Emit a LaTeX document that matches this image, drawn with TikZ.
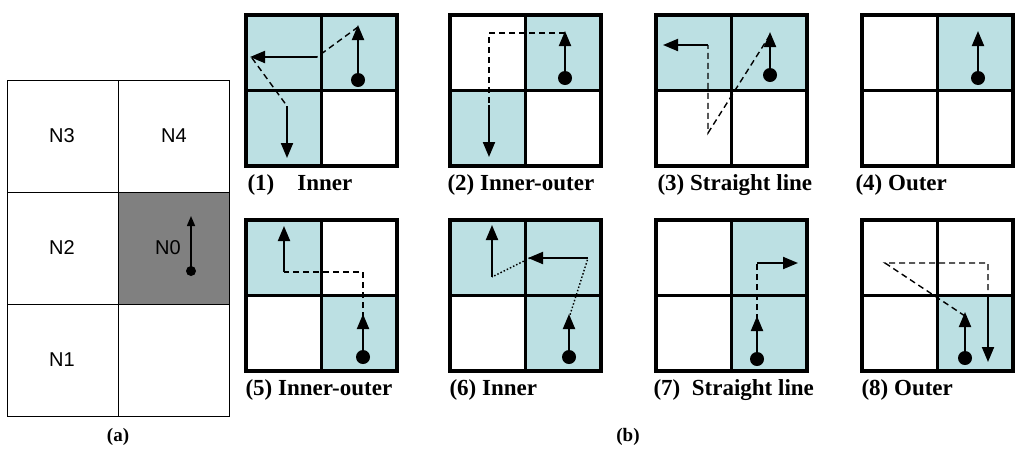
\documentclass[tikz,border=0pt]{standalone}
\usepackage{fontspec}
\setmainfont{Liberation Serif}
\newfontfamily\sansf{Liberation Sans}
\usetikzlibrary{arrows.meta}
\definecolor{lb}{HTML}{BCE0E3}
\definecolor{dg}{HTML}{808080}
\tikzset{
  frame/.style={line width=3.5pt},
  mv/.style={line width=2pt,-{Triangle[length=15pt,width=12pt]}},
  dsh/.style={line width=1.4pt,dash pattern=on 6pt off 4pt},
  dtt/.style={line width=1.4pt,dash pattern=on 1.5pt off 2pt},
  lab/.style={font=\fontsize{23}{25}\selectfont\bfseries,anchor=west},
  nlab/.style={font=\sansf\fontsize{20}{22}\selectfont},
}
\newcommand\cell[2]{\fill[lb] (#1*75.5,#2*75.5) rectangle ++(75.5,75.5);}
\newcommand\gridframe{\draw[frame] (0,0) rectangle (151,151) (75.5,0)--(75.5,151) (0,75.5)--(151,75.5);}
\newcommand\startdot[1]{\fill (#1) circle (7);}
\begin{document}
\begin{tikzpicture}[x=1pt,y=-1pt]
\useasboundingbox (0,0) rectangle (1024,456);
% (a)
\fill[dg] (118,192) rectangle (229,304);
\draw[line width=1pt] (7,80) rectangle (229,416) (118,80)--(118,416) (7,192)--(229,192) (7,304)--(229,304);
\node[nlab] (n3) at (62,136) {N3};
\node[nlab] (n4) at (174,136) {N4};
\node[nlab] (n2) at (62,248) {N2};
\node[nlab] (n0) at (168,248) {N0};
\node[nlab] (n1) at (62,360) {N1};
\fill (191,271) circle (5);
\draw[line width=1.5pt,-{Triangle[length=10pt,width=8pt]}] (191,271)--(191,216);
\node[font=\fontsize{19}{21}\selectfont\bfseries] (la) at (118,437) {(a)};
\node[font=\fontsize{19}{21}\selectfont\bfseries] (lb) at (628,437) {(b)};
% grid 1
\begin{scope}[shift={(246,15)}]
\cell00 \cell10 \cell01 \gridframe
\startdot{112,65}
\draw[mv] (112,65)--(112,10);
\draw[dsh] (112,12)--(71,42);
\draw[mv] (71,42)--(4,42);
\draw[dsh] (6,43)--(41,91);
\draw[mv] (41,91)--(41,143);
\end{scope}
\node[lab] (l1) at (244,185) {(1)\quad Inner};
% grid 2
\begin{scope}[shift={(450,15)}]
\cell10 \cell01 \gridframe
\startdot{115,63}
\draw[mv] (115,63)--(115,16);
\draw[dsh] (115,18)--(39,18)--(39,90);
\draw[mv] (39,90)--(39,142);
\end{scope}
\node[lab] (l2) at (444,185) {(2) Inner-outer};
% grid 3
\begin{scope}[shift={(656,15)}]
\cell00 \cell10 \gridframe
\startdot{114,60}
\draw[mv] (114,60)--(114,17);
\draw[dsh] (114,20)--(52,118)--(52,30);
\draw[mv] (52,30)--(7,30);
\end{scope}
\node[lab] (l3) at (654,185) {(3) Straight line};
% grid 4
\begin{scope}[shift={(862,15)}]
\cell10 \gridframe
\startdot{116,63}
\draw[mv] (116,63)--(116,16);
\end{scope}
\node[lab] (l4) at (852,185) {(4) Outer};
% grid 5
\begin{scope}[shift={(246,220)}]
\cell00 \cell11 \gridframe
\startdot{117,137}
\draw[mv] (117,137)--(117,94);
\draw[dsh] (117,98)--(117,52)--(38,52);
\draw[mv] (38,52)--(38,6);
\end{scope}
\node[lab] (l5) at (242,390) {(5) Inner-outer};
% grid 6
\begin{scope}[shift={(450,220)}]
\cell00 \cell10 \cell11 \gridframe
\startdot{119,137}
\draw[mv] (119,137)--(119,94);
\draw[dtt] (119,98)--(138,38);
\draw[mv] (138,38)--(78,38);
\draw[dtt] (80,38)--(42,57);
\draw[mv] (42,57)--(42,5);
\end{scope}
\node[lab] (l6) at (446,390) {(6) Inner};
% grid 7
\begin{scope}[shift={(656,220)}]
\cell10 \cell11 \gridframe
\startdot{101,139}
\draw[mv] (101,139)--(101,96);
\draw[dsh] (101,100)--(101,43);
\draw[mv] (101,43)--(142,43);
\end{scope}
\node[lab] (l7) at (650,390) {(7)\enspace Straight line};
% grid 8
\begin{scope}[shift={(862,220)}]
\cell11 \gridframe
\startdot{103,138}
\draw[mv] (103,138)--(103,92);
\draw[dsh] (103,96)--(23,43)--(126,43)--(126,75);
\draw[mv] (126,75)--(126,142);
\end{scope}
\node[lab] (l8) at (858,390) {(8) Outer};
\end{tikzpicture}
\end{document}
